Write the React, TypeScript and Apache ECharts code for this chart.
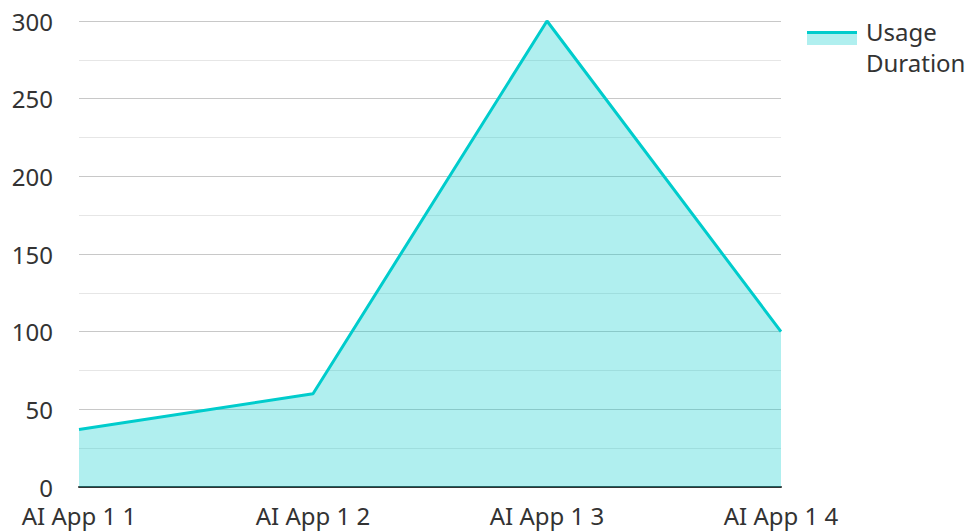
import React, { useEffect, useRef } from "react";
import * as echarts from "echarts";

const categories = ["AI App 1 1", "AI App 1 2", "AI App 1 3", "AI App 1 4"];
const usageDuration = [37, 60, 300, 100];
const seriesName = "Usage Duration";

const LINE_COLOR = "#00CCCC";
const AREA_COLOR = "rgba(0, 204, 204, 0.31)";

export default function App() {
  const ref = useRef<HTMLDivElement>(null);
  useEffect(() => {
    if (!ref.current) return;
    const chart = echarts.init(ref.current, null, { renderer: "svg" });
    const font = "'Noto Sans', 'Open Sans', sans-serif";
    chart.setOption({
      animation: false,
      textStyle: { fontFamily: font },
      grid: { left: 79, right: 190, top: 21, bottom: 44, containLabel: false },
      legend: {
        data: [{ name: seriesName, icon: "rect" }],
        left: 807,
        top: -1.5,
        padding: 0,
        orient: "vertical",
        itemWidth: 50,
        itemHeight: 14,
        itemStyle: { color: AREA_COLOR },
        formatter: (name: string) => "{sp|}\n{t|" + name.split(" ").join("}\n{t|") + "}",
        textStyle: {
          fontSize: 24,
          color: "#333",
          fontFamily: font,
          rich: {
            sp: { height: 17, lineHeight: 17, fontSize: 10 },
            t: { fontSize: 24, lineHeight: 31, color: "#333", fontFamily: font, padding: [0, 0, 0, 4] },
          },
        },
      },
      graphic: [
        {
          type: "rect",
          left: 807,
          top: 31,
          shape: { width: 50, height: 3 },
          style: { fill: LINE_COLOR },
          z: 100,
        },
      ],
      xAxis: {
        type: "category",
        data: categories,
        boundaryGap: false,
        axisLine: { lineStyle: { color: "#333", width: 2 } },
        axisTick: { show: false },
        axisLabel: { fontSize: 24, lineHeight: 20, color: "#333", margin: 18, fontFamily: font },
        splitLine: { show: false },
      },
      yAxis: {
        type: "value",
        min: 0,
        max: 300,
        interval: 50,
        axisLine: { show: false },
        axisTick: { show: false },
        axisLabel: { fontSize: 24, lineHeight: 20, color: "#333", margin: 26, fontFamily: font },
        splitLine: { lineStyle: { color: "#c8c8c8", width: 1 } },
        minorTick: { show: false, splitNumber: 2 },
        minorSplitLine: { show: true, lineStyle: { color: "#e6e6e6", width: 1 } },
      },
      series: [
        {
          name: seriesName,
          type: "line",
          data: usageDuration,
          symbol: "none",
          lineStyle: { color: LINE_COLOR, width: 3 },
          itemStyle: { color: LINE_COLOR },
          areaStyle: { color: AREA_COLOR, opacity: 1 },
        },
      ],
    });
    return () => chart.dispose();
  }, []);
  return <div ref={ref} style={{ width: 971, height: 531, position: "absolute", left: 0, top: 0 }} />;
}
